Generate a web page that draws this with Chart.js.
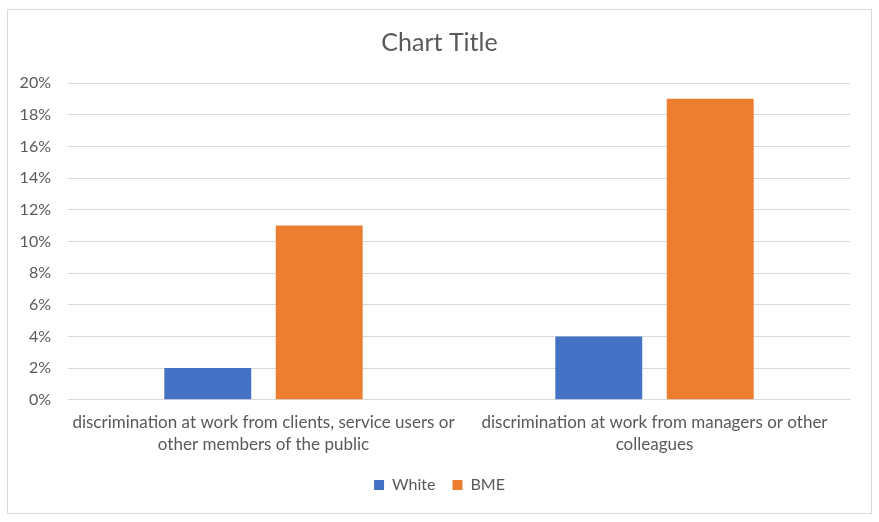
<!DOCTYPE html>
<html>
<head>
<meta charset="utf-8">
<script src="https://cdn.jsdelivr.net/npm/chart.js@4"></script>
<style>
  body { margin: 0; background: #fff; }
  #box { position: absolute; left: 7px; top: 9px; width: 863px; height: 503px; border: 1px solid #d9d9d9; }
</style>
</head>
<body>
<div id="box"><canvas id="barChart"></canvas></div>
<script>
// categories and values (percent)
var categories = [
    ['discrimination at work from clients, service users or', 'other members of the public'],
    ['discrimination at work from managers or other', 'colleagues']
];
var whiteValues = [2, 4];
var bmeValues = [11, 19];
var yTicks = [0, 2, 4, 6, 8, 10, 12, 14, 16, 18, 20];

var grey = '#595959';
var font = "Lato, 'Open Sans', sans-serif";

var ctxBar = document.getElementById('barChart');
var myBarChart = new Chart(ctxBar, {
    type: 'bar',
    data: {
        labels: categories,
        datasets: [
            { label: 'White', data: whiteValues, backgroundColor: '#4472c4' },
            { label: 'BME', data: bmeValues, backgroundColor: '#ed7d31' }
        ]
    },
    options: {
        responsive: true,
        maintainAspectRatio: false,
        animation: false,
        categoryPercentage: 0.57,
        barPercentage: 0.78,
        layout: { padding: { left: 0, right: 0, top: 14, bottom: 10 } },
        plugins: {
            title: {
                display: true,
                text: 'Chart Title',
                color: grey,
                font: { family: font, size: 25, weight: 'normal' },
                padding: { top: 4, bottom: 25 }
            },
            legend: {
                position: 'bottom',
                labels: {
                    color: grey,
                    font: { family: font, size: 16 },
                    boxWidth: 10,
                    boxHeight: 10,
                    padding: 17
                }
            },
            tooltip: { enabled: false }
        },
        scales: {
            x: {
                grid: { display: false },
                border: { color: '#d9d9d9' },
                ticks: {
                    color: grey,
                    font: { family: font, size: 17, lineHeight: 1.3 },
                    maxRotation: 0,
                    autoSkip: false,
                    padding: 4
                }
            },
            y: {
                min: 0,
                max: 20,
                afterBuildTicks: function (axis) {
                    axis.ticks = yTicks.map(function (v) { return { value: v }; });
                },
                afterFit: function (axis) { axis.width = 60; },
                grid: { color: '#d9d9d9', drawTicks: false },
                border: { display: false },
                ticks: {
                    color: grey,
                    font: { family: font, size: 16 },
                    padding: 17,
                    callback: function (v) { return v + '%'; }
                }
            },
            // empty right axis, only keeps space on the right like the original
            y2: {
                position: 'right',
                min: 0,
                max: 20,
                afterFit: function (axis) { axis.width = 21; },
                grid: { display: false },
                border: { display: false },
                ticks: { display: false }
            }
        }
    }
});
</script>
</body>
</html>
